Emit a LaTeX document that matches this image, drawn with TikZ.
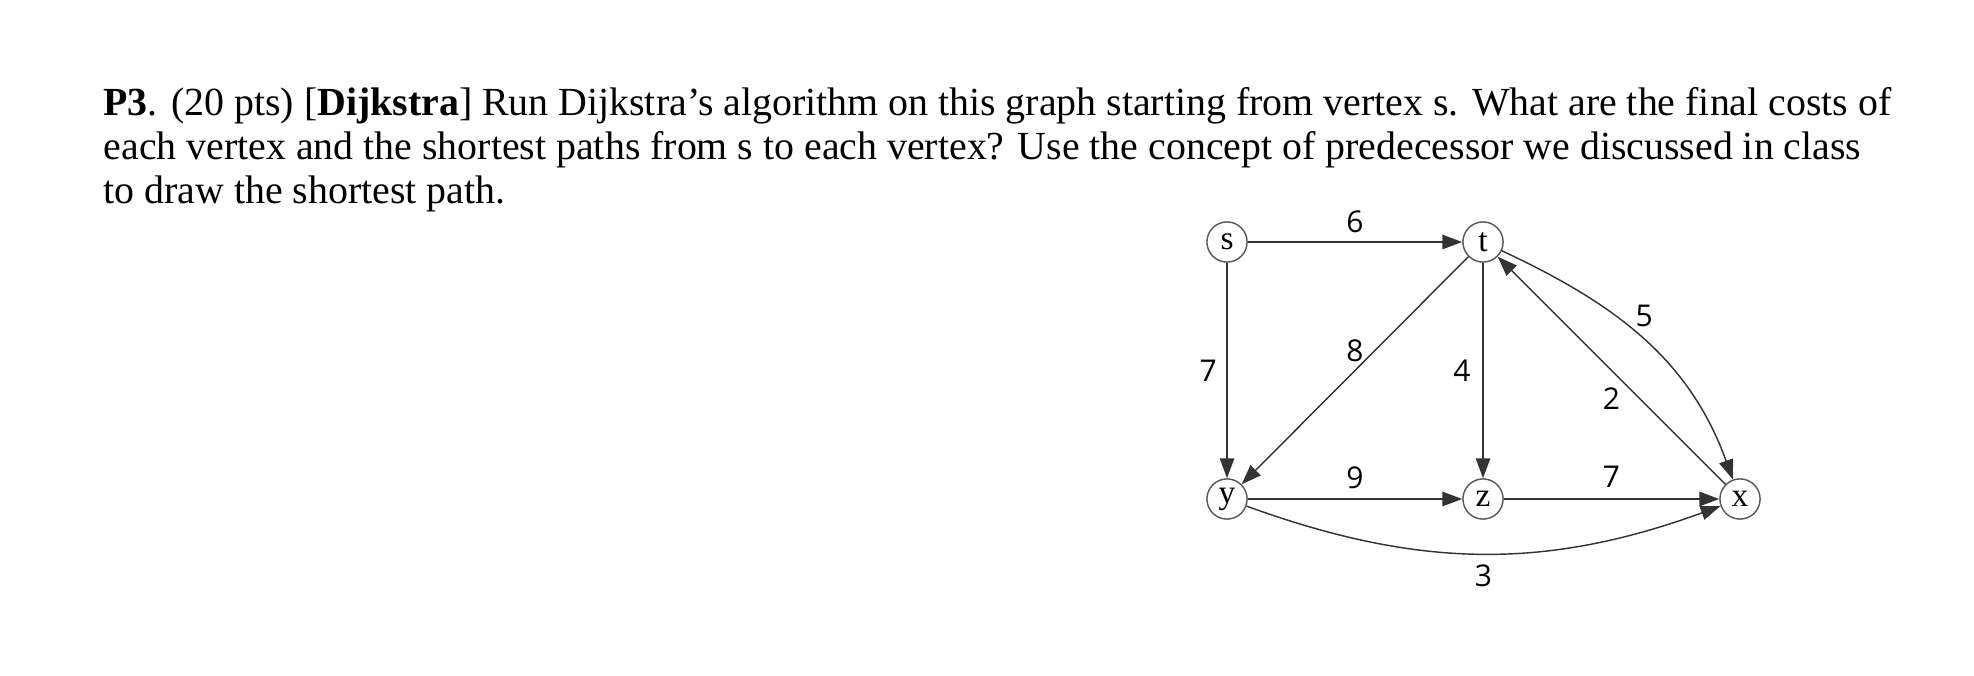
\documentclass[tikz,border=0pt]{standalone}
\usepackage{fontspec}
\setmainfont{Liberation Serif}
\newfontfamily\digitfont{Open Sans}
\usepackage{tikz}
\usetikzlibrary{positioning,calc,arrows.meta}

\begin{document}
\begin{tikzpicture}[x=0.3136pt,y=0.3136pt,
    vertex/.style={draw=black!65, line width=0.45pt, circle, minimum size=12.6pt, inner sep=0pt, font=\fontsize{10.5pt}{10.5pt}\selectfont},
    wedge/.style={draw=black!80, line width=0.45pt, -{Triangle[length=6.2pt,width=4.5pt]}},
    wlabel/.style={inner sep=0pt, font=\digitfont\fontsize{9.4pt}{10pt}\selectfont}]
    \useasboundingbox (0,0) rectangle (1974,-676);

    % Question text
    \node[anchor=base west, align=left, inner sep=0pt, font=\fontsize{12.5pt}{13.9pt}\selectfont] (question) at (103,-204)
        {\textbf{P3}. (20 pts) [\textbf{Dijkstra}] Run Dijkstra’s algorithm on this graph starting from vertex s. What are the final costs of\\
         each vertex and the shortest paths from s to each vertex? Use the concept of predecessor we discussed in class\\
         to draw the shortest path.};

    % Vertices
    \node[vertex] (s) at (1227,-242) {s};
    \node[vertex] (t) at (1483,-242) {t};
    \node[vertex] (y) at (1227,-499) {y};
    \node[vertex] (z) at (1483,-499) {z};
    \node[vertex] (x) at (1740,-499) {x};

    % Edges
    \draw[wedge] (s) -- node[wlabel, above=2.8pt] {6} (t);
    \draw[wedge] (s) -- node[wlabel, left=3pt] {7} (y);
    \draw[wedge] (t) -- node[wlabel, above=2.4pt] {8} (y);
    \draw[wedge] (t) -- node[wlabel, left=3.7pt] {4} (z);
    \draw[wedge] (x) -- node[wlabel, below=5.2pt] {2} (t);
    \draw[wedge] (t) to[out=-25, in=110] node[wlabel, pos=0.45, above right=1pt] {5} (x);
    \draw[wedge] (y) -- node[wlabel, above=3.1pt] {9} (z);
    \draw[wedge] (z) -- node[wlabel, above=3.4pt] {7} (x);
    \draw[wedge] (y) to[out=-20, in=200] node[wlabel, below=3.4pt] {3} (x);
\end{tikzpicture}
\end{document}
